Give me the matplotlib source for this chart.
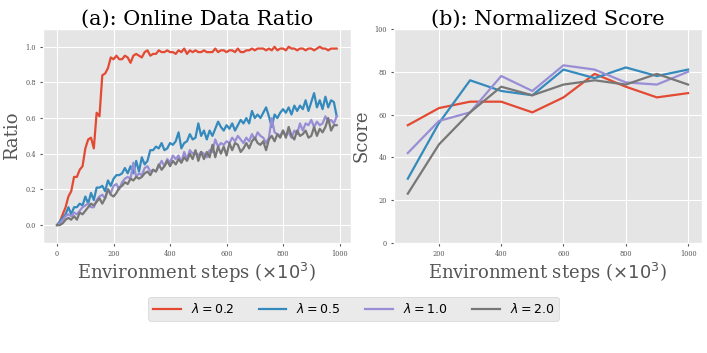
import numpy as np
from matplotlib import pyplot as plt

plt.style.use("ggplot")

# (a) online data ratio, x in 1e3 env steps
steps = np.arange(0, 1000, 10)
ratio_02 = [0.00, 0.02, 0.06, 0.10, 0.16, 0.19, 0.27, 0.27, 0.31, 0.33,
            0.43, 0.48, 0.49, 0.43, 0.63, 0.61, 0.84, 0.85, 0.88, 0.94,
            0.93, 0.95, 0.93, 0.93, 0.95, 0.94, 0.91, 0.95, 0.96, 0.95,
            0.94, 0.97, 0.98, 0.95, 0.96, 0.96, 0.98, 0.97, 0.97, 0.98,
            0.97, 0.97, 0.96, 0.98, 0.97, 0.99, 0.96, 0.98, 0.97, 0.98,
            0.97, 0.97, 0.98, 0.97, 0.97, 0.97, 0.99, 0.97, 0.98, 0.98,
            0.97, 0.98, 0.98, 0.97, 0.99, 0.97, 0.97, 0.98, 0.98, 0.99,
            0.98, 0.99, 0.99, 0.99, 0.98, 0.99, 0.98, 1.00, 0.98, 0.99,
            0.99, 0.98, 1.00, 0.99, 0.99, 0.98, 0.99, 0.99, 0.98, 0.99,
            0.99, 0.98, 0.99, 1.00, 0.99, 0.99, 0.98, 0.99, 0.99, 0.99]
ratio_05 = [0.00, 0.02, 0.04, 0.06, 0.10, 0.06, 0.10, 0.10, 0.12, 0.11,
            0.16, 0.12, 0.18, 0.14, 0.21, 0.21, 0.22, 0.19, 0.25, 0.22,
            0.26, 0.28, 0.28, 0.29, 0.32, 0.29, 0.33, 0.29, 0.36, 0.30,
            0.38, 0.34, 0.36, 0.42, 0.42, 0.44, 0.43, 0.46, 0.42, 0.43,
            0.46, 0.45, 0.47, 0.52, 0.43, 0.46, 0.47, 0.51, 0.48, 0.49,
            0.57, 0.50, 0.53, 0.48, 0.53, 0.50, 0.54, 0.58, 0.55, 0.53,
            0.56, 0.54, 0.57, 0.53, 0.56, 0.59, 0.57, 0.60, 0.57, 0.64,
            0.60, 0.62, 0.60, 0.63, 0.66, 0.61, 0.55, 0.62, 0.60, 0.63,
            0.65, 0.63, 0.66, 0.62, 0.67, 0.64, 0.67, 0.65, 0.70, 0.64,
            0.69, 0.74, 0.66, 0.70, 0.65, 0.72, 0.66, 0.70, 0.69, 0.61]
ratio_10 = [0.00, 0.01, 0.03, 0.05, 0.06, 0.05, 0.07, 0.06, 0.08, 0.10,
            0.11, 0.12, 0.10, 0.10, 0.14, 0.16, 0.17, 0.15, 0.20, 0.18,
            0.22, 0.23, 0.20, 0.24, 0.26, 0.27, 0.26, 0.35, 0.27, 0.29,
            0.28, 0.32, 0.33, 0.30, 0.31, 0.30, 0.33, 0.36, 0.33, 0.37,
            0.35, 0.39, 0.37, 0.39, 0.35, 0.41, 0.37, 0.42, 0.40, 0.41,
            0.39, 0.41, 0.40, 0.38, 0.42, 0.41, 0.48, 0.44, 0.46, 0.45,
            0.47, 0.46, 0.49, 0.47, 0.50, 0.48, 0.46, 0.49, 0.47, 0.51,
            0.48, 0.52, 0.50, 0.49, 0.46, 0.49, 0.60, 0.52, 0.51, 0.50,
            0.53, 0.50, 0.52, 0.49, 0.53, 0.51, 0.57, 0.53, 0.57, 0.56,
            0.59, 0.55, 0.58, 0.56, 0.57, 0.61, 0.58, 0.59, 0.57, 0.61]
ratio_20 = [0.00, 0.00, 0.01, 0.03, 0.04, 0.03, 0.05, 0.03, 0.07, 0.06,
            0.08, 0.10, 0.12, 0.11, 0.13, 0.15, 0.12, 0.15, 0.20, 0.17,
            0.16, 0.18, 0.21, 0.22, 0.24, 0.23, 0.26, 0.25, 0.27, 0.26,
            0.27, 0.29, 0.30, 0.28, 0.31, 0.30, 0.34, 0.31, 0.33, 0.36,
            0.33, 0.36, 0.34, 0.37, 0.35, 0.38, 0.36, 0.40, 0.37, 0.42,
            0.36, 0.41, 0.37, 0.41, 0.38, 0.45, 0.38, 0.44, 0.40, 0.44,
            0.39, 0.46, 0.42, 0.46, 0.45, 0.41, 0.43, 0.46, 0.43, 0.47,
            0.49, 0.46, 0.45, 0.47, 0.42, 0.48, 0.50, 0.47, 0.51, 0.49,
            0.53, 0.49, 0.55, 0.50, 0.48, 0.53, 0.50, 0.51, 0.53, 0.49,
            0.50, 0.55, 0.50, 0.54, 0.52, 0.55, 0.60, 0.53, 0.56, 0.56]

# (b) normalized score
eval_steps = [100, 200, 300, 400, 500, 600, 700, 800, 900, 1000]
score_02 = [55, 63, 66, 66, 61, 68, 79, 73, 68, 70]
score_05 = [30, 56, 76, 71, 69, 81, 77, 82, 78, 81]
score_10 = [42, 57, 61, 78, 71, 83, 81, 75, 74, 80]
score_20 = [23, 46, 61, 73, 69, 74, 76, 74, 79, 74]

labels = [r"$\lambda=0.2$", r"$\lambda=0.5$", r"$\lambda=1.0$", r"$\lambda=2.0$"]
colors = ["#E24A33", "#348ABD", "#988ED5", "#777777"]

fig = plt.figure(figsize=(7.07, 3.53), dpi=100)
ax1 = fig.add_axes([0.061, 0.312, 0.435, 0.606])
ax2 = fig.add_axes([0.557, 0.312, 0.436, 0.606])

for y, c, l in zip([ratio_02, ratio_05, ratio_10, ratio_20], colors, labels):
    ax1.plot(steps, y, c=c, lw=1.6, label=l)
for y, c in zip([score_02, score_05, score_10, score_20], colors):
    ax2.plot(eval_steps, y, c=c, lw=1.6)

ax1.set_ylim(-0.1, 1.1)
ax2.set_ylim(0, 100)
ax1.set_xticks([0, 200, 400, 600, 800, 1000])
ax2.set_xticks([200, 400, 600, 800, 1000])
ax2.set_yticks([0, 20, 40, 60, 80, 100])

for ax, title, ylab in [(ax1, "(a): Online Data Ratio", "Ratio"),
                        (ax2, "(b): Normalized Score", "Score")]:
    ax.set_title(title, fontsize=15, family="serif", pad=3)
    ax.set_xlabel(r"Environment steps ($\times 10^3$)", fontsize=13,
                  family="serif", color="#555555", labelpad=2)
    ax.set_ylabel(ylab, fontsize=13, family="serif", color="#555555", labelpad=3)
    ax.tick_params(labelsize=4.8, length=2, pad=3)
    for t in ax.get_xticklabels() + ax.get_yticklabels():
        t.set_family("serif")

fig.legend(loc="center", bbox_to_anchor=(0.5, 0.125), ncol=4, fontsize=9,
           handlelength=2.2, columnspacing=2.0, borderpad=0.4)

plt.savefig("out.png", dpi=100)
